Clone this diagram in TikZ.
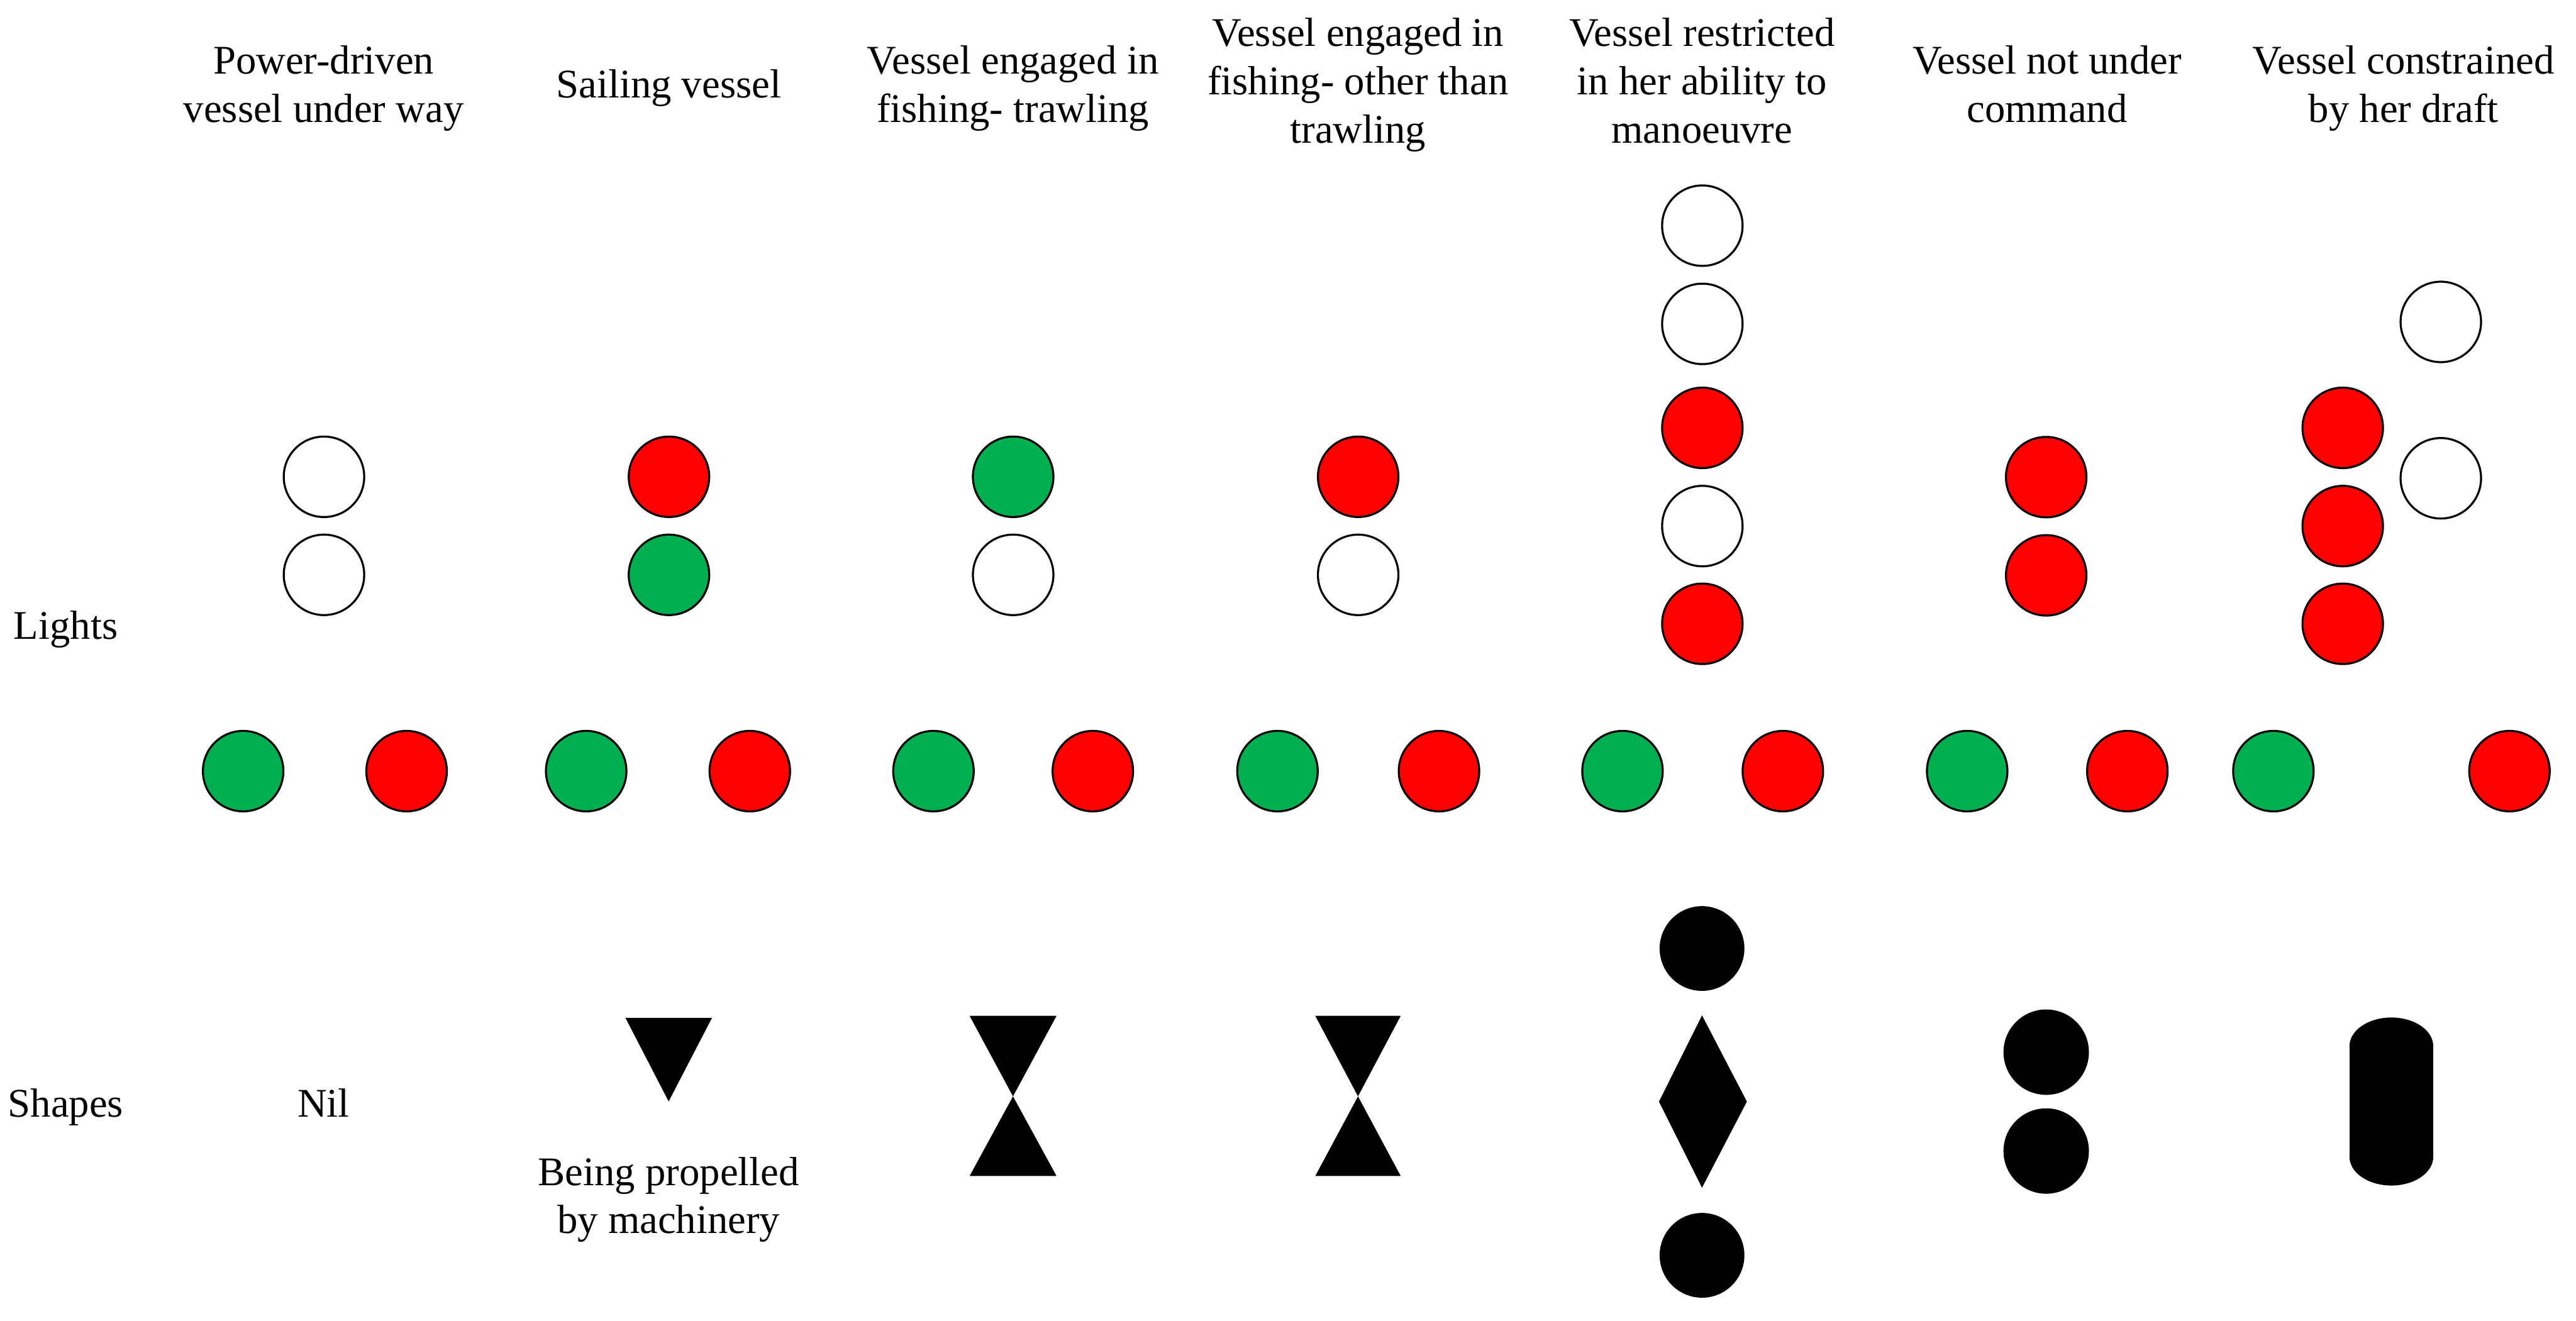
\documentclass[tikz,border=0pt]{standalone}
\usepackage{fontspec}
\setmainfont{Liberation Serif}
\newfontfamily\tnrfont{LiberationSerif}[Extension=.ttf,UprightFont=*-Regular]
\definecolor{lgreen}{HTML}{00B050}
\definecolor{lred}{HTML}{FF0000}
\begin{document}
\begin{tikzpicture}[x=0.02cm,y=-0.02cm,
  lamp/.style={circle,draw=black,line width=0.7pt,minimum size=0.98cm,inner sep=0pt},
  wlamp/.style={lamp,fill=white},
  rlamp/.style={lamp,fill=lred},
  glamp/.style={lamp,fill=lgreen},
  txt/.style={font=\tnrfont\fontsize{14.1}{16.7}\selectfont,inner sep=0pt},
  hdr/.style={txt,align=center,anchor=north},
  lbl/.style={txt,anchor=base},
  shp/.style={fill=black}]
\useasboundingbox[fill=white] (0,0) rectangle (1568,804);

% headers
\node[hdr] (h1) at (197,27.5) {Power-driven\\vessel under way};
\node[hdr] (h2) at (407,41.9) {Sailing vessel};
\node[hdr] (h3) at (616.6,27.5) {Vessel engaged in\\fishing- trawling};
\node[hdr] (h4) at (826.6,10.7) {Vessel engaged in\\fishing- other than\\trawling};
\node[hdr] (h5) at (1036,10.7) {Vessel restricted\\in her ability to\\manoeuvre};
\node[hdr] (h6) at (1246,27.5) {Vessel not under\\command};
\node[hdr] (h7) at (1463,27.5) {Vessel constrained\\by her draft};

% row labels
\node[lbl] (lights) at (40,389) {Lights};
\node[lbl] (shapes) at (40,680) {Shapes};
\node[lbl] (nil) at (197,680) {Nil};
\node[txt,align=center,anchor=base] (prop) at (407,751) {Being propelled\\by machinery};

% masthead lights
\node[wlamp] (a1) at (197.2,290.3) {};
\node[wlamp] (a2) at (197.2,350) {};
\node[rlamp] (b1) at (407.2,290.3) {};
\node[glamp] (b2) at (407.2,350) {};
\node[glamp] (c1) at (616.7,290.3) {};
\node[wlamp] (c2) at (616.7,350) {};
\node[rlamp] (d1) at (826.7,290.3) {};
\node[wlamp] (d2) at (826.7,350) {};
\node[wlamp] (e1) at (1036.2,137.4) {};
\node[wlamp] (e2) at (1036.2,197.2) {};
\node[rlamp] (e3) at (1036.2,260.5) {};
\node[wlamp] (e4) at (1036.2,320.3) {};
\node[rlamp] (e5) at (1036.2,379.8) {};
\node[rlamp] (f1) at (1245.5,290.5) {};
\node[rlamp] (f2) at (1245.5,350.3) {};
\node[rlamp] (g1) at (1426,260.5) {};
\node[rlamp] (g2) at (1426,320.3) {};
\node[rlamp] (g3) at (1426,379.8) {};
\node[wlamp] (g4) at (1485.7,196) {};
\node[wlamp] (g5) at (1485.7,291.2) {};

% sidelights
\node[glamp] (s1) at (148,469.5) {};
\node[rlamp] (p1) at (247.5,469.5) {};
\node[glamp] (s2) at (356.8,469.5) {};
\node[rlamp] (p2) at (456.4,469.5) {};
\node[glamp] (s3) at (568.2,469.5) {};
\node[rlamp] (p3) at (665.2,469.5) {};
\node[glamp] (s4) at (777.6,469.5) {};
\node[rlamp] (p4) at (875.9,469.5) {};
\node[glamp] (s5) at (987.6,469.5) {};
\node[rlamp] (p5) at (1085.2,469.5) {};
\node[glamp] (s6) at (1197.4,469.5) {};
\node[rlamp] (p6) at (1294.9,469.5) {};
\node[glamp] (s7) at (1383.8,469.5) {};
\node[rlamp] (p7) at (1527.5,469.5) {};

% day shapes
% sailing vessel under power: cone point down
\fill[shp] (380.7,619.7) -- (433.4,619.7) -- (407,670.6) -- cycle;
% fishing: two cones points together
\fill[shp] (590.2,618.5) -- (643.1,618.5) -- (616.6,667.5) -- cycle;
\fill[shp] (590.2,716) -- (643.1,716) -- (616.6,667.5) -- cycle;
\fill[shp] (800.6,618.5) -- (852.6,618.5) -- (826.6,667.5) -- cycle;
\fill[shp] (800.6,716) -- (852.6,716) -- (826.6,667.5) -- cycle;
% RAM: ball diamond ball
\fill[shp] (1036,577.5) circle[radius=25.8];
\fill[shp] (1036,618.2) -- (1063.3,670.7) -- (1036,723.1) -- (1009.8,670.7) -- cycle;
\fill[shp] (1036,764.3) circle[radius=25.8];
% NUC: two balls
\fill[shp] (1245.5,640.6) circle[radius=26];
\fill[shp] (1245.5,700.8) circle[radius=26];
% CBD: cylinder
\fill[shp] (1430.1,637) rectangle (1481.1,704.3);
\fill[shp] (1455.6,637) ellipse[x radius=25.5, y radius=17.5];
\fill[shp] (1455.6,704.3) ellipse[x radius=25.5, y radius=17.5];
\end{tikzpicture}
\end{document}
